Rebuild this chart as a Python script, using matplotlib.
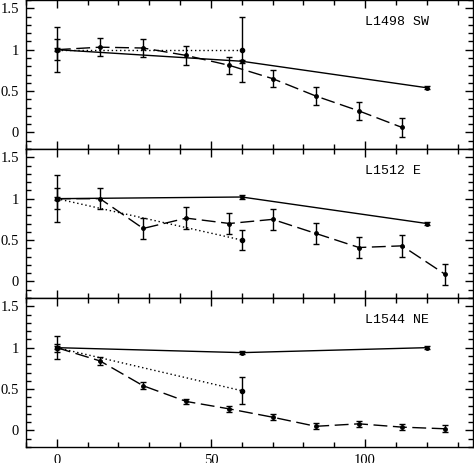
import matplotlib
matplotlib.use("Agg")
import matplotlib.pyplot as plt
from matplotlib.ticker import MultipleLocator

# --- names of the three cores
names = ["L1498 SW", "L1512 E", "L1544 NE"]

# --- solid series
x_solid = [0, 60, 120]
y_solid = [[1.0, 0.86, 0.54],
           [1.0, 1.02, 0.70],
           [1.0, 0.94, 1.00]]
e_solid = [[0.02, 0.02, 0.02],
           [0.02, 0.02, 0.02],
           [0.02, 0.015, 0.015]]

# --- dotted series
x_dot = [0, 60]
y_dot = [[1.0, 1.0],
         [1.0, 0.50],
         [1.0, 0.48]]
e_dot = [[0.27, 0.39],
         [0.28, 0.12],
         [0.14, 0.16]]

# --- dashed series
x_dash = [[0, 14, 28, 42, 56, 70, 84, 98, 112],
          [0, 14, 28, 42, 56, 70, 84, 98, 112, 126],
          [0, 14, 28, 42, 56, 70, 84, 98, 112, 126]]
y_dash = [[1.0, 1.03, 1.02, 0.93, 0.81, 0.65, 0.44, 0.26, 0.06],
          [1.0, 1.0, 0.64, 0.765, 0.70, 0.75, 0.58, 0.41, 0.43, 0.085],
          [1.0, 0.84, 0.54, 0.35, 0.26, 0.16, 0.05, 0.08, 0.04, 0.02]]
e_dash = [[0.13, 0.11, 0.11, 0.11, 0.105, 0.105, 0.11, 0.11, 0.11],
          [0.13, 0.13, 0.13, 0.13, 0.13, 0.13, 0.13, 0.13, 0.13, 0.13],
          [0.05, 0.05, 0.04, 0.035, 0.04, 0.035, 0.035, 0.035, 0.035, 0.04]]

plt.rcParams['font.family'] = ['Liberation Serif', 'DejaVu Serif']

fig = plt.figure(figsize=(4.74, 4.63), dpi=100)
left = 26 / 474
width = 447 / 474
h = 149 / 463
bottom = 1 - 447 / 463

lw = 1.0
for k in range(3):
    ax = fig.add_axes([left, bottom + (2 - k) * h, width, h])

    ax.errorbar(x_solid, y_solid[k], yerr=e_solid[k], fmt='o', ms=2.5, color='black',
                lw=lw, elinewidth=lw, capsize=2.5, capthick=lw, ls='-')
    ax.errorbar(x_dot, y_dot[k], yerr=e_dot[k], fmt='o', ms=3, color='black',
                elinewidth=lw, capsize=2.5, capthick=lw, ls='none')
    ax.plot(x_dot, y_dot[k], color='black', lw=lw, ls=(0, (1, 2)))
    ax.errorbar(x_dash[k], y_dash[k], yerr=e_dash[k], fmt='o', ms=2.5, color='black',
                elinewidth=lw, capsize=2.5, capthick=lw, ls='none')
    ax.plot(x_dash[k], y_dash[k], color='black', lw=lw, ls=(0, (10, 4)))

    ax.text(100, 1.34, names[k], family=['Liberation Mono', 'DejaVu Sans Mono'],
            fontsize=9.5, va='center', ha='left')

    ax.set_xlim(-10, 135)
    ax.set_ylim(-0.2, 1.6)
    ax.xaxis.set_major_locator(MultipleLocator(50))
    ax.xaxis.set_minor_locator(MultipleLocator(10))
    ax.yaxis.set_major_locator(MultipleLocator(0.5))
    ax.yaxis.set_minor_locator(MultipleLocator(0.1))
    ax.set_yticks([0, 0.5, 1, 1.5])
    ax.set_yticklabels(["0", "0.5", "1", "1.5"])
    ax.tick_params(which='both', direction='in', top=True, right=True, width=1,
                   labelsize=10.5)
    ax.tick_params(which='major', length=6, pad=5)
    ax.tick_params(which='minor', length=3.3)
    for s in ax.spines.values():
        s.set_linewidth(1)
    if k < 2:
        ax.tick_params(labelbottom=False)

fig.savefig("out.png", dpi=100)
